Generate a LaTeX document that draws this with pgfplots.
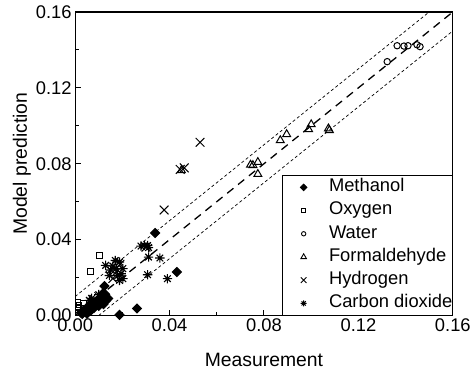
\documentclass[border=0pt]{standalone}
\usepackage{fontspec}
\setmainfont{Liberation Sans}
\usepackage{pgfplots}
\pgfplotsset{compat=1.18}
\pgfdeclareplotmark{star8}{%
 \pgfpathmoveto{\pgfqpoint{0pt}{\pgfplotmarksize}}\pgfpathlineto{\pgfqpoint{0pt}{-\pgfplotmarksize}}%
 \pgfpathmoveto{\pgfqpoint{\pgfplotmarksize}{0pt}}\pgfpathlineto{\pgfqpoint{-\pgfplotmarksize}{0pt}}%
 \pgfpathmoveto{\pgfqpoint{.7071\pgfplotmarksize}{.7071\pgfplotmarksize}}\pgfpathlineto{\pgfqpoint{-.7071\pgfplotmarksize}{-.7071\pgfplotmarksize}}%
 \pgfpathmoveto{\pgfqpoint{.7071\pgfplotmarksize}{-.7071\pgfplotmarksize}}\pgfpathlineto{\pgfqpoint{-.7071\pgfplotmarksize}{.7071\pgfplotmarksize}}%
 \pgfusepathqstroke}
\pgfplotsset{
  legmark/.style={only marks, line width=0.9bp,
    legend image code/.code={\path (0bp,0bp) (34bp,0bp); \draw plot coordinates {(21bp,0bp)};}},
}
\begin{document}
\begin{tikzpicture}
\begin{axis}[
  name=ax, at={(0,0)}, anchor=south west,
  scale only axis, width=379.5bp, height=305bp,
  xmin=0, xmax=0.16, ymin=0, ymax=0.16,
  xtick={0,0.04,0.08,0.12,0.16}, ytick={0,0.04,0.08,0.12,0.16},
  minor xtick={0.02,0.06,0.10,0.14}, minor ytick={0.02,0.06,0.10,0.14},
  xtick pos=bottom, ytick pos=left,
  tick align=inside,
  major tick length=6bp, minor tick length=3.5bp,
  axis line style={line width=1.2bp},
  tick style={line width=1bp, black},
  scaled ticks=false,
  /pgf/number format/fixed, /pgf/number format/fixed zerofill,
  /pgf/number format/precision=2, /pgf/number format/assume math mode=true,
  tick label style={font=\fontsize{18.5}{21}\selectfont},
  xlabel={Measurement}, ylabel={Model prediction},
  xlabel style={font=\fontsize{19.5}{23}\selectfont, at={(axis description cs:0.5,-0.1672)}, anchor=base},
  ylabel style={font=\fontsize{19.5}{23}\selectfont, at={(axis description cs:-0.1278,0.5)}, anchor=base},
  legend style={at={(axis description cs:1,0)}, anchor=south east, draw=black, line width=0.9bp,
    inner xsep=0pt, inner ysep=3.5bp, row sep=6.8bp, column sep=12bp,
    font=\fontsize{18.5}{21}\selectfont,
    nodes={inner sep=0pt, text height=12.5bp, text depth=4bp}},
  legend cell align=left,
]
\addlegendimage{legmark, mark=square*, mark size=2.3bp, mark options={rotate=45, fill=black}}
\addlegendentry{Methanol}
\addlegendimage{legmark, mark=square, mark size=2.1bp}
\addlegendentry{Oxygen}
\addlegendimage{legmark, mark=o, mark size=2.2bp}
\addlegendentry{Water}
\addlegendimage{legmark, mark=triangle, mark size=3.2bp}
\addlegendentry{Formaldehyde}
\addlegendimage{legmark, mark=x, mark size=4bp}
\addlegendentry{Hydrogen}
\addlegendimage{legmark, mark=star8, mark size=3bp}
\addlegendentry{Carbon dioxide}

\addplot[black, line width=1.3bp, dash pattern=on 8bp off 6bp, forget plot] coordinates {(0,0) (0.16,0.16)};
\addplot[black, line width=0.7bp, dash pattern=on 3bp off 2.5bp, forget plot] coordinates {(0,0.01) (0.15,0.16)};
\addplot[black, line width=0.7bp, dash pattern=on 3bp off 2.5bp, forget plot] coordinates {(0.01,0) (0.16,0.15)};

% Methanol
\addplot[only marks, forget plot, black, line width=1bp, mark=square*, mark size=3.2bp, mark options={rotate=45, fill=black}] coordinates {
(0.0339,0.0435) (0.0431,0.0229) (0.0262,0.0037) (0.0188,0.0003) (0.0124,0.0155)
(0.0127,0.0112) (0.0117,0.0115) (0.0131,0.0078) (0.0100,0.0085) (0.0090,0.0075)
(0.0080,0.0070) (0.0075,0.0060) (0.0065,0.0055) (0.0055,0.0045) (0.0045,0.0035)
(0.0035,0.0025) (0.0025,0.0015) (0.0060,0.0025) (0.0080,0.0040) (0.0100,0.0050)
(0.0110,0.0070) (0.0120,0.0060) (0.0070,0.0030) (0.0050,0.0010) (0.0030,0.0008)
(0.0090,0.0055) (0.0140,0.0090)
};
% Oxygen
\addplot[only marks, forget plot, black, line width=1bp, mark=square, mark size=2.8bp] coordinates {
(0.0103,0.0316) (0.0064,0.0232) (0.0012,0.0072) (0.0012,0.0040) (0.0016,0.0055)
(0.0015,0.0015) (0.0035,0.0065)
};
% Water
\addplot[only marks, forget plot, black, line width=1bp, mark=o, mark size=3.2bp] coordinates {
(0.1322,0.1338) (0.1364,0.1422) (0.1393,0.1420) (0.1410,0.1422) (0.1448,0.1427) (0.1461,0.1417)
};
% Formaldehyde
\addplot[only marks, forget plot, black, line width=1bp, mark=triangle, mark size=4.6bp] coordinates {
(0.0743,0.0794) (0.0753,0.0792) (0.0774,0.0808) (0.0774,0.0745) (0.0869,0.0923)
(0.0896,0.0955) (0.0989,0.0981) (0.1000,0.1007) (0.1073,0.0985) (0.1077,0.0976)
(0.0450,0.0765)
};
% Hydrogen
\addplot[only marks, forget plot, black, line width=1bp, mark=x, mark size=6.2bp] coordinates {
(0.0445,0.0770) (0.0462,0.0778) (0.0529,0.0913) (0.0377,0.0556) (0.0300,0.0360)
(0.0190,0.0270) (0.0175,0.0230) (0.0160,0.0195) (0.0100,0.0100) (0.0080,0.0085)
};
% Carbon dioxide
\addplot[only marks, forget plot, black, line width=1.1bp, mark=star8, mark size=4.7bp] coordinates {
(0.0279,0.0366) (0.0293,0.0369) (0.0307,0.0369) (0.0311,0.0358) (0.0311,0.0308)
(0.0359,0.0303) (0.0307,0.0215) (0.0391,0.0194) (0.0129,0.0264) (0.0188,0.0282)
(0.0174,0.0247) (0.0145,0.0211) (0.0195,0.0220) (0.0202,0.0194) (0.0188,0.0185)
(0.0202,0.0247) (0.0170,0.0290) (0.0160,0.0260) (0.0180,0.0210) (0.0150,0.0240)
(0.0100,0.0110) (0.0070,0.0090) (0.0090,0.0070) (0.0060,0.0080) (0.0110,0.0080)
};
\end{axis}
\path (-75.5bp,-55bp) rectangle (398.5bp,317bp);
\end{tikzpicture}
\end{document}
